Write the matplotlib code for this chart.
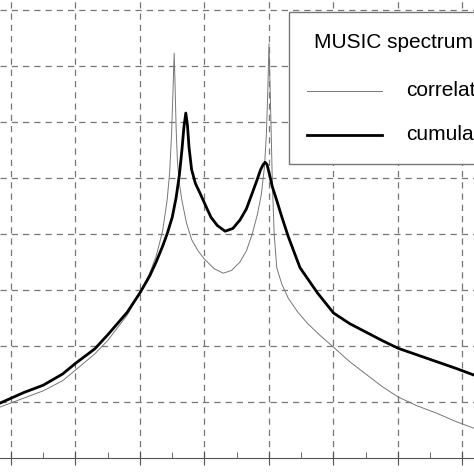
import matplotlib.pyplot as plt
from matplotlib.patches import Rectangle

plt.rcParams['font.family'] = ['Liberation Sans', 'DejaVu Sans']

# values in grid units
x_corr = [-0.17, 0.2, 0.5, 0.8, 1.0, 1.3, 1.5, 1.8, 2.0, 2.15, 2.25, 2.35, 2.42, 2.46, 2.49,
          2.51, 2.53, 2.545, 2.56, 2.58, 2.61, 2.65, 2.72, 2.8, 2.9, 3.0, 3.15, 3.29, 3.42,
          3.55, 3.65, 3.74, 3.82, 3.88, 3.93, 3.96, 3.98, 4.0, 4.015, 4.03, 4.05, 4.08,
          4.12, 4.2, 4.3, 4.45, 4.6, 4.8, 5.0, 5.25, 5.5, 5.75, 6.0, 6.3, 6.6, 6.9, 7.18]
y_corr = [0.91, 1.07, 1.2, 1.38, 1.57, 1.86, 2.1, 2.55, 2.95, 3.3, 3.6, 4.05, 4.6, 5.1, 5.8,
          6.5, 7.23, 6.6, 5.9, 5.3, 4.9, 4.6, 4.2, 3.9, 3.7, 3.55, 3.38, 3.3, 3.35,
          3.5, 3.7, 4.0, 4.35, 4.7, 5.2, 5.8, 6.5, 7.4, 6.7, 6.0, 5.0, 4.0,
          3.4, 3.1, 2.85, 2.6, 2.4, 2.18, 1.98, 1.72, 1.5, 1.28, 1.09, 0.93, 0.8, 0.65, 0.53]
x_cum = [-0.17, 0.2, 0.5, 0.8, 1.0, 1.3, 1.5, 1.8, 2.0, 2.15, 2.25, 2.35, 2.42, 2.5, 2.56,
         2.61, 2.65, 2.68, 2.71, 2.735, 2.76, 2.8, 2.86, 2.93, 3.02, 3.1, 3.2, 3.32, 3.44,
         3.55, 3.65, 3.74, 3.81, 3.87, 3.91, 3.94, 3.97, 4.0, 4.05, 4.12, 4.2, 4.3, 4.48,
         4.75, 5.0, 5.25, 5.5, 5.75, 6.0, 6.3, 6.6, 6.9, 7.18]
y_cum = [0.98, 1.17, 1.3, 1.5, 1.69, 1.95, 2.2, 2.6, 2.95, 3.25, 3.5, 3.78, 4.0, 4.3, 4.65,
         5.05, 5.5, 5.9, 6.16, 5.95, 5.55, 5.15, 4.9, 4.73, 4.5, 4.3, 4.15, 4.05, 4.1,
         4.25, 4.45, 4.73, 4.95, 5.15, 5.24, 5.28, 5.24, 5.1, 4.85, 4.6, 4.3, 3.95, 3.4,
         2.95, 2.59, 2.4, 2.25, 2.1, 1.96, 1.84, 1.72, 1.6, 1.48]
legend_title = "MUSIC spectrum"
labels = ["correlation-based", "cumulant-based"]

fig = plt.figure(figsize=(4.74, 4.74), dpi=100)
ax = fig.add_axes([0, 16 / 474, 1, 458 / 474])
ax.plot(x_corr, y_corr, color='#777777', lw=0.7)
ax.plot(x_cum, y_cum, color='black', lw=2.0, solid_joinstyle='round')

ax.set_xticks(range(0, 8))
ax.set_xticks([i + 0.5 for i in range(-1, 8)], minor=True)
ax.set_yticks(range(1, 9))
ax.set_xlim(-11 / 64.5, (474 - 11) / 64.5)
ax.set_ylim(0, 458 / 56)
ax.grid(True, which='major', ls=(0, (5, 4)), color='#777777', lw=0.9)
for s in ['left', 'right', 'top']:
    ax.spines[s].set_visible(False)
ax.spines['bottom'].set_color('#555555')
ax.tick_params(axis='x', which='major', direction='inout', length=10, color='#555555', labelbottom=False)
ax.tick_params(axis='x', which='minor', direction='in', length=4, color='#555555')
ax.tick_params(axis='y', left=False, labelleft=False)

# legend box drawn in pixel coordinates, cut at the right edge as in the source
fig.patches.append(Rectangle((289 / 474, 1 - 164 / 474), 0.5, 152 / 474, transform=fig.transFigure,
                             fill=True, facecolor='white', edgecolor='#777777', lw=1.0))
fig.text(314 / 474, 1 - 43 / 474, legend_title, fontsize=15, va='center')
fig.lines.append(plt.Line2D([307 / 474, 382 / 474], [1 - 91 / 474] * 2, transform=fig.transFigure,
                            color='#777777', lw=0.7))
fig.lines.append(plt.Line2D([307 / 474, 382 / 474], [1 - 135 / 474] * 2, transform=fig.transFigure,
                            color='black', lw=2.0))
fig.text(406 / 474, 1 - 91 / 474, labels[0], fontsize=15, va='center')
fig.text(406 / 474, 1 - 135 / 474, labels[1], fontsize=15, va='center')

fig.savefig('out.png', dpi=100)
